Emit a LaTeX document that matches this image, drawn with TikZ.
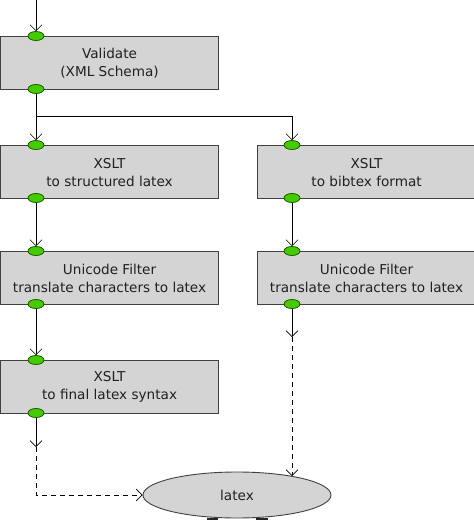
\documentclass[tikz,border=0pt]{standalone}
\usepackage{fontspec}
\setmainfont{DejaVu Sans}
\usetikzlibrary{arrows.meta,shapes.geometric}
\definecolor{boxfill}{HTML}{D4D4D4}
\definecolor{boxline}{HTML}{404040}
\definecolor{portfill}{HTML}{44CC00}
\definecolor{portline}{HTML}{1A5C00}
\definecolor{txt}{HTML}{202020}
\begin{document}
\begin{tikzpicture}[x=1pt,y=-1pt,
  stepbox/.style={draw=boxline,line width=1.1pt,fill=boxfill,rectangle,anchor=north west,
    minimum width=218pt,minimum height=53pt,inner sep=0pt,align=center,
    font=\fontsize{13.6}{18}\selectfont,text=txt},
  port/.style={draw=portline,line width=0.8pt,fill=portfill,ellipse,minimum width=16pt,minimum height=9pt,inner sep=0pt},
  flow/.style={draw=black,line width=0.7pt,-{Straight Barb[length=6pt,width=12pt,line width=0.6pt]}},
  dflow/.style={flow,dash pattern=on 5pt off 4pt}]
\useasboundingbox (0,0) rectangle (474,520);
% boxes
\node[stepbox] (b1) at (0,36) {Validate\\(XML Schema)};
\node[stepbox] (b2) at (0,145) {XSLT\\to structured latex};
\node[stepbox] (b3) at (257,145) {XSLT\\to bibtex format};
\node[stepbox] (b4) at (0,251) {Unicode Filter\\translate characters to latex};
\node[stepbox] (b5) at (257,251) {Unicode Filter\\translate characters to latex};
\node[stepbox] (b6) at (0,360) {XSLT\\to final latex syntax};
% latex ellipse
\node[draw=boxline,line width=0.9pt,fill=boxfill,ellipse,minimum width=188pt,minimum height=46pt,inner sep=0pt,
  font=\fontsize{13.6}{16}\selectfont,text=txt] (ell) at (237,495) {latex};
\fill[black!85] (207,518) rectangle (218,521);
\fill[black!85] (256,518) rectangle (268,521);
% ports
\node[port] (p1i) at (36,36) {};
\node[port] (p1o) at (36,89) {};
\node[port] (p2i) at (36,145) {};
\node[port] (p2o) at (36,198) {};
\node[port] (p3i) at (292,145) {};
\node[port] (p3o) at (292,198) {};
\node[port] (p4i) at (36,251) {};
\node[port] (p4o) at (36,304) {};
\node[port] (p5i) at (292,251) {};
\node[port] (p5o) at (292,304) {};
\node[port] (p6i) at (36,360) {};
\node[port] (p6o) at (36,413) {};
% coordinates
\coordinate (in) at (36,0);
\coordinate (br) at (36,116);
\coordinate (m1) at (36,447);
\coordinate (m2) at (292,337);
\coordinate (e2) at (292,476);
% connectors
\draw[flow] (in) -- (p1i.north);
\draw[flow] (p1o.south) -- (p2i.north);
\draw[flow] (br) -| (p3i.north);
\draw[flow] (p2o.south) -- (p4i.north);
\draw[flow] (p3o.south) -- (p5i.north);
\draw[flow] (p4o.south) -- (p6i.north);
\draw[flow] (p6o.south) -- (m1);
\draw[dflow] (m1) |- (ell.west);
\draw[flow] (p5o.south) -- (m2);
\draw[dflow] (m2) -- (e2);
\end{tikzpicture}
\end{document}
